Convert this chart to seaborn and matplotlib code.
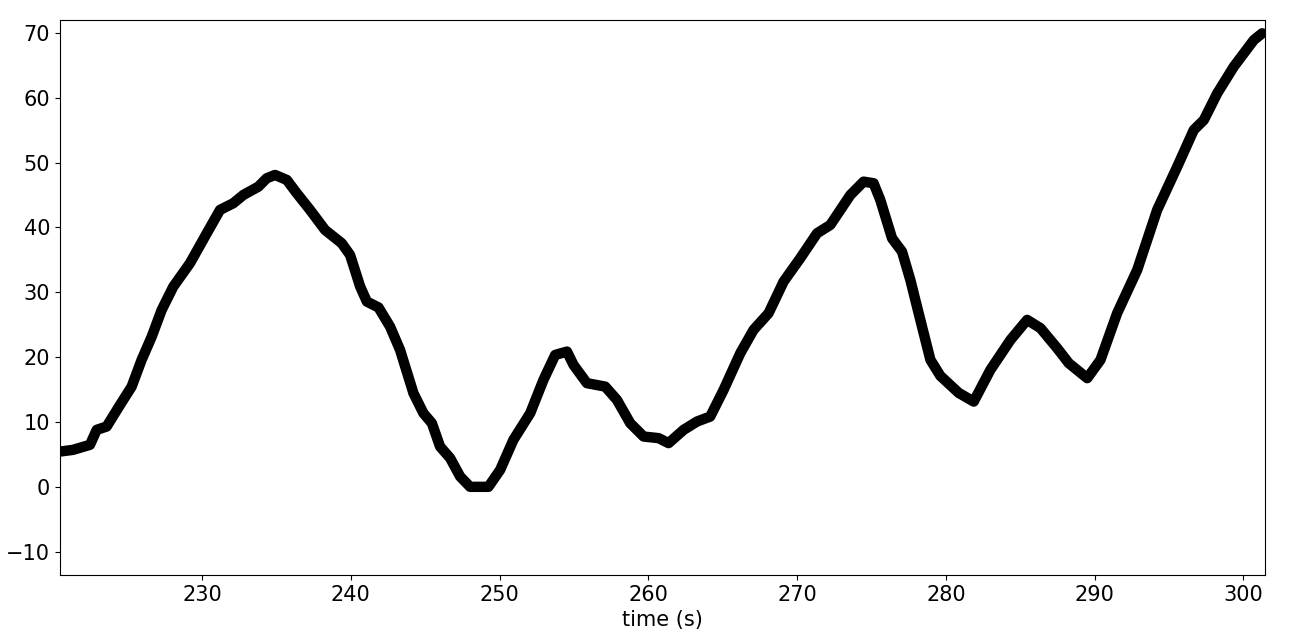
import pandas as pd
import numpy as np
import matplotlib
matplotlib.use("Agg")
import matplotlib.pyplot as plt
import seaborn as sns

# valores (tempo em s, sinal)
time_s = [220.45, 221.32, 222.47, 222.92, 223.59, 224.49, 225.27, 225.94, 226.62, 227.29,
          228.07, 229.19, 230.32, 231.21, 232.10, 232.78, 233.79, 234.35, 234.91, 235.70,
          236.37, 237.26, 238.27, 239.39, 239.95, 240.63, 241.08, 241.86, 242.64, 243.31,
          244.21, 244.88, 245.45, 246.00, 246.68, 247.35, 248.02, 249.25, 250.04, 250.93,
          252.06, 252.95, 253.74, 254.53, 254.97, 255.87, 257.10, 257.89, 258.78, 259.68,
          260.69, 261.36, 262.37, 263.27, 264.16, 265.06, 266.18, 267.07, 268.08, 269.09,
          270.21, 271.34, 272.23, 273.58, 274.47, 275.14, 275.59, 276.38, 277.05, 277.61,
          278.28, 278.96, 279.63, 280.86, 281.87, 282.99, 284.34, 285.46, 286.36, 287.48,
          288.26, 289.50, 290.39, 291.51, 292.86, 294.20, 295.55, 296.66, 297.34, 298.24,
          299.35, 300.70, 301.26]
signal = [5.44, 5.70, 6.48, 8.79, 9.30, 12.64, 15.46, 19.58, 23.17, 27.29,
          30.88, 34.49, 39.11, 42.71, 43.74, 45.02, 46.30, 47.60, 48.10, 47.33,
          45.28, 42.71, 39.62, 37.57, 35.77, 30.88, 28.57, 27.67, 24.71, 21.12,
          14.45, 11.36, 9.82, 6.21, 4.42, 1.59, 0.0, 0.0, 2.62, 7.25,
          11.36, 16.50, 20.35, 20.86, 18.81, 15.99, 15.46, 13.41, 9.82, 7.76,
          7.51, 6.74, 8.79, 10.07, 10.84, 14.96, 20.61, 24.21, 26.78, 31.65,
          35.26, 39.11, 40.39, 45.02, 47.07, 46.82, 44.25, 38.34, 36.28, 31.91,
          25.75, 19.58, 17.11, 14.49, 13.15, 18.04, 22.66, 25.75, 24.47, 21.38,
          19.07, 16.76, 19.58, 26.78, 33.46, 42.71, 49.38, 55.04, 56.58, 60.70,
          64.80, 68.92, 69.95]

df = pd.DataFrame({"time": time_s, "signal": signal})

fig = plt.figure(figsize=(12.89, 6.37), dpi=100)
ax = fig.add_axes([0.0465, 0.0973, 0.9349, 0.8713])

sns.lineplot(data=df, x="time", y="signal", color="black", linewidth=7.5,
             estimator=None, ax=ax, solid_capstyle="round", solid_joinstyle="round")

ax.set_xlim(220.45, 301.45)
ax.set_ylim(-13.6, 72.0)
ax.set_xlabel("time (s)", fontsize=15)
ax.set_ylabel("")
ax.tick_params(labelsize=15)

fig.savefig("out.png", dpi=100)
